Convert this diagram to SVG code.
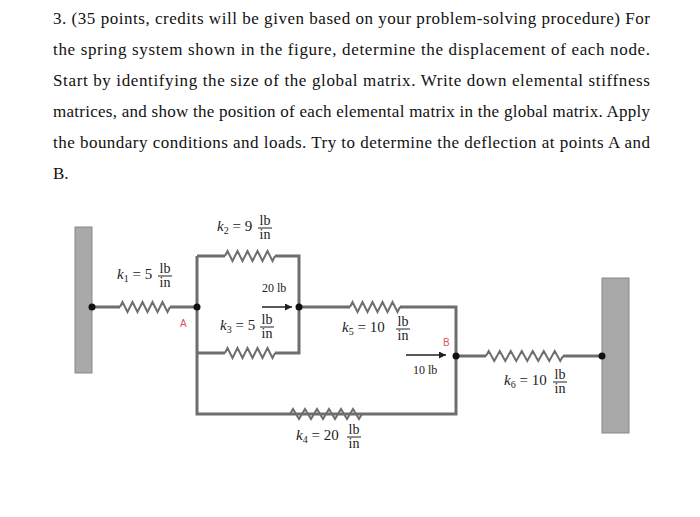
<svg xmlns="http://www.w3.org/2000/svg" width="700" height="517" viewBox="0 0 700 517">
<style>
.p{font-family:"Liberation Serif",serif;font-size:17px;fill:#111}
.w{fill:#a9a9a9;stroke:#888;stroke-width:1}
.l{fill:none;stroke:#6e6e6e;stroke-width:3}
.s{fill:none;stroke:#6e6e6e;stroke-width:2}
.t{font-family:"Liberation Serif",serif;font-size:15px;fill:#222}
.f{font-family:"Liberation Serif",serif;font-size:14px;fill:#222;text-anchor:middle}
.r{font-family:"Liberation Sans",sans-serif;font-size:10px;fill:#e05060}
.n{font-family:"Liberation Serif",serif;font-size:12px;fill:#222}
</style>
<defs><marker id="ah" viewBox="0 0 10 10" refX="10" refY="5" markerWidth="10" markerHeight="7" orient="auto" markerUnits="userSpaceOnUse"><path d="M0,0L10,5L0,10z" fill="#222"/></marker></defs>
<text class="p" x="53" y="24" textLength="597" lengthAdjust="spacing">3. (35 points, credits will be given based on your problem-solving procedure) For</text>
<text class="p" x="53" y="55" textLength="597" lengthAdjust="spacing">the spring system shown in the figure, determine the displacement of each node.</text>
<text class="p" x="53" y="86" textLength="597" lengthAdjust="spacing">Start by identifying the size of the global matrix. Write down elemental stiffness</text>
<text class="p" x="53" y="117" textLength="597" lengthAdjust="spacing">matrices, and show the position of each elemental matrix in the global matrix. Apply</text>
<text class="p" x="53" y="148" textLength="597" lengthAdjust="spacing">the boundary conditions and loads. Try to determine the deflection at points A and</text>
<text class="p" x="53" y="179">B.</text>
<g id="wallL"><rect class="w" x="75" y="227" width="17" height="146"/></g>
<g id="wallR"><rect class="w" x="602" y="278" width="27" height="155"/></g>
<g id="connectors">
<path class="l" d="M92,307H120M170,307H197M197,256V414H456V356M197,256H225M275,256H299V353H275M225,353H197M299,307H350M400,307H456V356M456,356H486M563,356H602M197,414H290M362,414H456"/>
<path class="s" d="M120,307l2.5,-5l5,10l5,-10l5,10l5,-10l5,10l5,-10l5,10l5,-10l5,10l2.5,-5"/>
<path class="s" d="M225,256l2.5,-5l5,10l5,-10l5,10l5,-10l5,10l5,-10l5,10l5,-10l5,10l2.5,-5"/>
<path class="s" d="M225,353l2.5,-5l5,10l5,-10l5,10l5,-10l5,10l5,-10l5,10l5,-10l5,10l2.5,-5"/>
<path class="s" d="M350,307l2.5,-5l5,10l5,-10l5,10l5,-10l5,10l5,-10l5,10l5,-10l5,10l2.5,-5"/>
<path class="s" d="M290,414l3,-5l6,10l6,-10l6,10l6,-10l6,10l6,-10l6,10l6,-10l6,10l6,-10l6,10l3,-5"/>
<path class="s" d="M486,356l2.75,-5l5.5,10l5.5,-10l5.5,10l5.5,-10l5.5,10l5.5,-10l5.5,10l5.5,-10l5.5,10l5.5,-10l5.5,10l5.5,-10l5.5,10l2.75,-5"/>
<line x1="262" y1="307" x2="292" y2="307" stroke="#222" stroke-width="1.5" marker-end="url(#ah)"/>
<line x1="406" y1="355" x2="446" y2="355" stroke="#222" stroke-width="1.5" marker-end="url(#ah)"/>
</g>
<g id="nodes" fill="#111">
<circle cx="92" cy="307" r="3.5"/><circle cx="197" cy="307" r="3.5"/><circle cx="299" cy="307" r="3.5"/><circle cx="456" cy="356" r="3.5"/><circle cx="602" cy="356" r="3.5"/>
</g>
<g id="labels">
<text class="r" x="180" y="327">A</text>
<text class="r" x="443" y="346">B</text>
<text class="n" x="262" y="292">20 lb</text>
<text class="n" x="413" y="374">10 lb</text>
<text class="t" x="117" y="279"><tspan font-style="italic">k</tspan><tspan font-size="10" dy="3">1</tspan><tspan dy="-3"> = 5</tspan></text>
<g><text class="f" x="165" y="273">lb</text><line x1="158" y1="276" x2="172" y2="276" stroke="#222"/><text class="f" x="165" y="287">in</text></g>
<text class="t" x="217" y="231"><tspan font-style="italic">k</tspan><tspan font-size="10" dy="3">2</tspan><tspan dy="-3"> = 9</tspan></text>
<g><text class="f" x="265" y="225">lb</text><line x1="258" y1="228" x2="272" y2="228" stroke="#222"/><text class="f" x="265" y="239">in</text></g>
<text class="t" x="220" y="330"><tspan font-style="italic">k</tspan><tspan font-size="10" dy="3">3</tspan><tspan dy="-3"> = 5</tspan></text>
<g><text class="f" x="267" y="324">lb</text><line x1="260" y1="327" x2="274" y2="327" stroke="#222"/><text class="f" x="267" y="338">in</text></g>
<text class="t" x="342" y="332"><tspan font-style="italic">k</tspan><tspan font-size="10" dy="3">5</tspan><tspan dy="-3"> = 10</tspan></text>
<g><text class="f" x="403" y="326">lb</text><line x1="396" y1="329" x2="410" y2="329" stroke="#222"/><text class="f" x="403" y="340">in</text></g>
<text class="t" x="296" y="440"><tspan font-style="italic">k</tspan><tspan font-size="10" dy="3">4</tspan><tspan dy="-3"> = 20</tspan></text>
<g><text class="f" x="354" y="434">lb</text><line x1="347" y1="437" x2="361" y2="437" stroke="#222"/><text class="f" x="354" y="448">in</text></g>
<text class="t" x="504" y="385"><tspan font-style="italic">k</tspan><tspan font-size="10" dy="3">6</tspan><tspan dy="-3"> = 10</tspan></text>
<g><text class="f" x="560" y="379">lb</text><line x1="553" y1="382" x2="567" y2="382" stroke="#222"/><text class="f" x="560" y="393">in</text></g>
</g>
</svg>
